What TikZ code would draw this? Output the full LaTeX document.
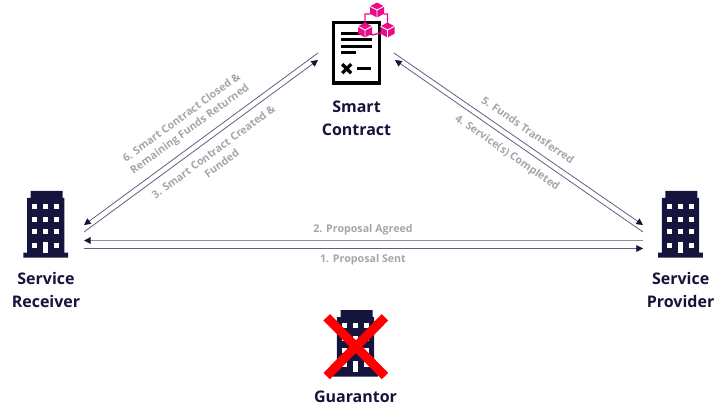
\documentclass[tikz,border=0pt]{standalone}
\usepackage{fontspec}
\setmainfont{Open Sans}
\definecolor{navy}{HTML}{14143C}
\definecolor{linec}{HTML}{5F5F80}
\definecolor{greyt}{HTML}{A6A6A6}
\definecolor{pink}{HTML}{EC0A8C}
\usetikzlibrary{arrows.meta}
\tikzset{
 bigl/.style={font=\fontsize{12pt}{17.5pt}\selectfont\bfseries,text=navy,align=center,inner sep=0pt},
 stepl/.style={font=\fontsize{8pt}{10.5pt}\selectfont\bfseries,text=greyt,align=center,inner sep=0pt},
 conn/.style={draw=linec,line width=0.6pt},
 tip/.style={-{Triangle[length=5pt,width=5pt,fill=navy,color=navy]}},
 win/.style={fill=white,draw=none},
 cube/.pic={
  \fill[pink] (0,-7.5)--(7,-3.7)--(7,3.7)--(0,7.5)--(-7,3.7)--(-7,-3.7)--cycle;
  \draw[white,line width=0.7pt] (-7,-3.7)--(0,0)--(7,-3.7) (0,0)--(0,7.5);
 },
 tower/.pic={
  \fill[navy] (-22.4,66.7)--(22.4,66.7)--(22.4,61.7)--(18.6,61.7)--(18.6,7)--(17,7)--(17,0)--(-15,0)--(-15,7)--(-18.6,7)--(-18.6,61.7)--(-22.4,61.7)--cycle;
  \foreach \wx in {-11,0,11}\foreach \wy in {15.7,28.3,40.7}
   \fill[win] (\wx-2.6,\wy-2.5) rectangle (\wx+2.6,\wy+2.5);
  \fill[win] (-13.6,51.5) rectangle (-8.4,56.5);
  \fill[win] (8.4,51.5) rectangle (13.6,56.5);
  \fill[win] (-2.5,51.3) rectangle (2.5,61.7);
 }
}
\begin{document}
\begin{tikzpicture}[x=0.75pt,y=-0.75pt]
\useasboundingbox (0,0) rectangle (727,420);
% buildings
\pic at (45.7,191) {tower};
\pic at (680.4,191) {tower};
\pic at (355.5,310) {tower};
\draw[red,line width=6.8pt] (326.7,317.3)--(385,376) (385,317.3)--(326.7,376);
% contract
\draw[black,line width=2.7pt,fill=white] (333.5,22.5) rectangle (379.6,83.3);
\foreach \ly/\lx in {33.3/371.7,39.8/371.7,46.3/371.7,52.8/356}
 \draw[black,line width=2.3pt] (340.7,\ly)--(\lx,\ly);
\draw[black,line width=2.4pt] (342.2,64.2)--(351.2,73.2) (351.2,64.2)--(342.2,73.2);
\draw[black,line width=1.8pt] (357.3,68.7)--(371.3,68.7);
% cubes
\draw[pink,line width=1pt] (383.5,14)--(387.5,14)--(387.5,23) (370.5,14)--(365,14)--(365,23) (371.5,35)--(381,33);
\pic at (377,10) {cube};
\pic at (365,30) {cube};
\pic at (387.5,30) {cube};
% connector ends
\coordinate (recA) at (84,225);
\coordinate (recB) at (84,232);
\coordinate (recC) at (84,240.5);
\coordinate (recD) at (84,248.5);
\coordinate (prvA) at (643,225);
\coordinate (prvB) at (643,232);
\coordinate (prvC) at (643,240.5);
\coordinate (prvD) at (643,248.5);
\coordinate (conA) at (318,53);
\coordinate (conB) at (318,60);
\coordinate (conC) at (394,53);
\coordinate (conD) at (395,60);
\draw[conn,tip] (conA)--(recA);
\draw[conn,tip] (recB)--(conB);
\draw[conn,tip] (conC)--(prvA);
\draw[conn,tip] (prvB)--(conD);
\draw[conn,draw=linec!70!white,line width=0.9pt,tip] (prvC)--(recC);
\draw[conn,tip] (recD)--(prvD);
% labels
\node[bigl] (sc) at (356.5,118) {Smart\\Contract};
\node[bigl] (sr) at (46,290) {Service\\Receiver};
\node[bigl] (sp) at (680.6,290) {Service\\Provider};
\node[bigl] (gu) at (355.5,397) {Guarantor};
\node[stepl,rotate=36.3] (l6) at (186,124) {6. Smart Contract Closed \&\\Remaining Funds Returned};
\node[stepl,rotate=36.3] (l3) at (217.5,157.5) {3. Smart Contract Created \&\\Funded};
\node[stepl,rotate=-34.6] (l5) at (528,130) {5. Funds Transferred};
\node[stepl,rotate=-34.6] (l4) at (507,153) {4. Service(s) Completed};
\node[stepl] (l2) at (363,229.5) {2. Proposal Agreed};
\node[stepl] (l1) at (363,260) {1. Proposal Sent};
\end{tikzpicture}
\end{document}
